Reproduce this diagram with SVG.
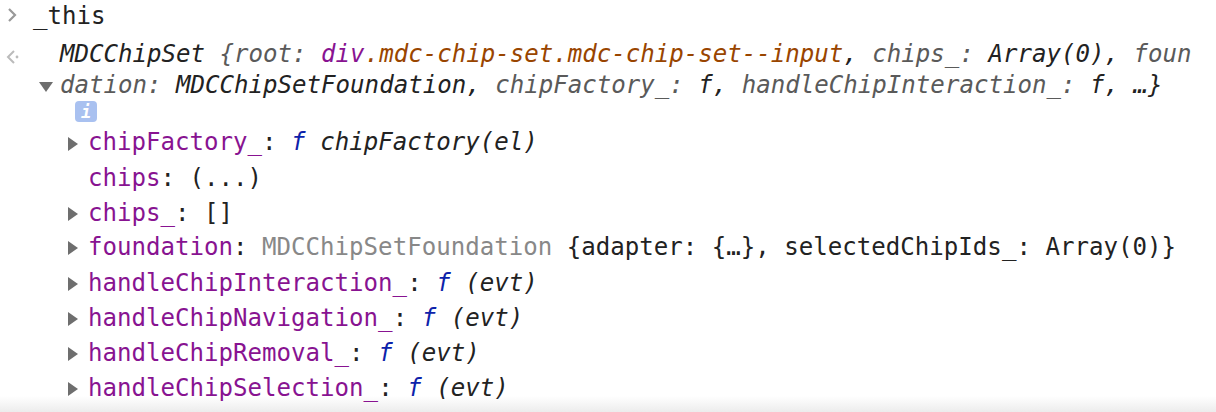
<svg xmlns="http://www.w3.org/2000/svg" width="1216" height="412" viewBox="0 0 1216 412">
<defs>
<style>
text{font-family:"DejaVu Sans Mono","Liberation Mono",monospace;font-size:24.1px;fill:#222;white-space:pre}
.i{font-style:italic}
.g{fill:#5a5a5a}
.p{fill:#881391}
.b{fill:#994500}
.f{fill:#0d22aa;font-style:italic}
.lg{fill:#888}
.tri{fill:#6e6e6e}
</style>
<linearGradient id="fade" x1="0" y1="0" x2="0" y2="1"><stop offset="0" stop-color="#fff"/><stop offset="1" stop-color="#ececec"/></linearGradient>
</defs>
<rect width="1216" height="412" fill="#fff"/>
<rect y="396" width="1216" height="16" fill="url(#fade)"/>
<g id="prompt">
<path d="M9 9 L15 15 L9 21" fill="none" stroke="#999" stroke-width="2.2"/>
<text x="33" y="24">_this</text>
</g>
<g id="result">
<path d="M14 51 L8 57 L14 63" fill="none" stroke="#bbb" stroke-width="2"/>
<circle cx="17" cy="57" r="1.4" fill="#bbb"/>
<text x="60" y="62" class="i">MDCChipSet <tspan class="g">{root: </tspan><tspan class="p">div</tspan><tspan class="b">.mdc-chip-set.mdc-chip-set--input</tspan>, <tspan class="g">chips_: </tspan>Array(0), <tspan class="g">foun</tspan></text>
<path d="M39 82 L53 82 L46 92 Z" class="tri"/>
<text x="60" y="93" class="i"><tspan class="g">dation: </tspan>MDCChipSetFoundation, <tspan class="g">chipFactory_: </tspan>f, <tspan class="g">handleChipInteraction_: </tspan>f, …}</text>
<rect x="75" y="101" width="22" height="21" rx="4" fill="#a9c1f0"/>
<text x="86" y="118" style="font-size:17px;fill:#fff;font-weight:bold;font-style:italic" text-anchor="middle">i</text>
</g>
<g id="props">
<path d="M68 137 L78 144 L68 151 Z" class="tri"/>
<text x="88" y="150"><tspan class="p">chipFactory_</tspan>: <tspan class="f">f</tspan> <tspan class="i">chipFactory(el)</tspan></text>
<text x="88" y="186"><tspan class="p">chips</tspan>: (...)</text>
<path d="M68 207 L78 214 L68 221 Z" class="tri"/>
<text x="88" y="221"><tspan class="p">chips_</tspan>: []</text>
<path d="M68 241 L78 248 L68 255 Z" class="tri"/>
<text x="88" y="255"><tspan class="p">foundation</tspan>: <tspan class="lg">MDCChipSetFoundation</tspan> {adapter: {…}, selectedChipIds_: Array(0)}</text>
<path d="M68 277 L78 284 L68 291 Z" class="tri"/>
<text x="88" y="291"><tspan class="p">handleChipInteraction_</tspan>: <tspan class="f">f</tspan> <tspan class="i">(evt)</tspan></text>
<path d="M68 312 L78 319 L68 326 Z" class="tri"/>
<text x="88" y="326"><tspan class="p">handleChipNavigation_</tspan>: <tspan class="f">f</tspan> <tspan class="i">(evt)</tspan></text>
<path d="M68 347 L78 354 L68 361 Z" class="tri"/>
<text x="88" y="361"><tspan class="p">handleChipRemoval_</tspan>: <tspan class="f">f</tspan> <tspan class="i">(evt)</tspan></text>
<path d="M68 382 L78 389 L68 396 Z" class="tri"/>
<text x="88" y="396"><tspan class="p">handleChipSelection_</tspan>: <tspan class="f">f</tspan> <tspan class="i">(evt)</tspan></text>
</g>
</svg>
